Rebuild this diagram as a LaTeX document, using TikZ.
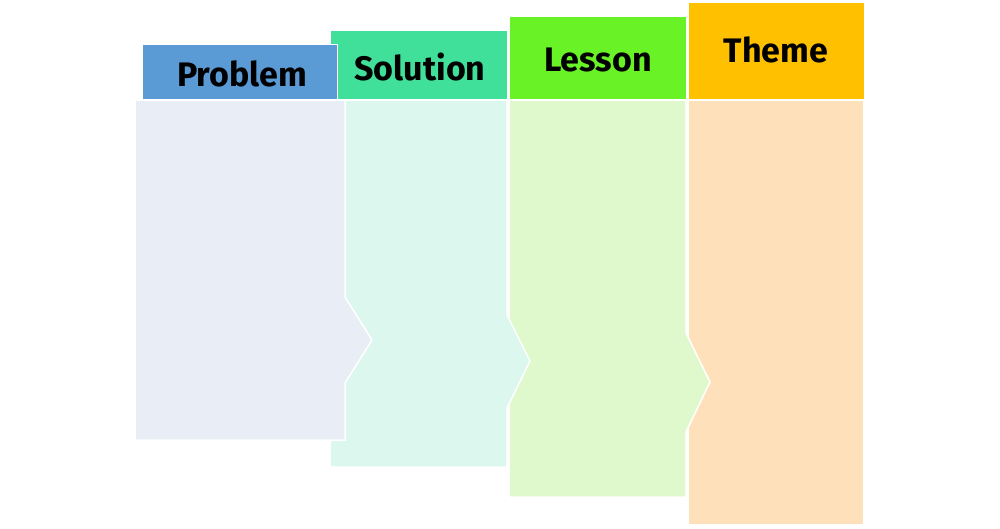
\documentclass[tikz,border=0pt]{standalone}
\usepackage{fontspec}
\setmainfont{Fira Sans}
\usetikzlibrary{positioning}
\definecolor{probhead}{HTML}{5B9BD5}
\definecolor{probbody}{HTML}{E9EDF6}
\definecolor{solhead}{HTML}{40E09A}
\definecolor{solbody}{HTML}{DCF8EE}
\definecolor{leshead}{HTML}{69F226}
\definecolor{lesbody}{HTML}{E0F9CC}
\definecolor{thmhead}{HTML}{FFC000}
\definecolor{thmbody}{HTML}{FEE0BA}
\begin{document}
\begin{tikzpicture}[x=1pt,y=-1pt]
		\tikzset{body/.style = {draw=white,line width=1.5pt}}
		\tikzset{header/.style = {draw=white,line width=1pt,anchor=south west,inner sep=0pt,
				font=\fontsize{34}{38}\selectfont\bfseries}}
		\useasboundingbox (0,0) rectangle (1000,528);
		% bodies, back to front
		\draw[body,fill=thmbody] (688,100) rectangle (864,525);
		\draw[body,fill=lesbody] (509,100) -- (686,100) -- (686,333) -- (710,382) -- (686,432)
			-- (686,497) -- (509,497) -- cycle;
		\draw[body,fill=solbody] (330,100) -- (507,100) -- (507,315) -- (530,361) -- (507,408)
			-- (507,467) -- (330,467) -- cycle;
		\draw[body,fill=probbody] (135,100) -- (345,100) -- (345,297) -- (372,340) -- (345,383)
			-- (345,440) -- (135,440) -- cycle;
		% headers
		\node[header,fill=thmhead,minimum width=176pt,minimum height=97pt] (theme) at (688,100) {};
		\node[header,fill=leshead,minimum width=177pt,minimum height=83pt] (lesson) at (509,100) {};
		\node[header,fill=solhead,minimum width=177pt,minimum height=69pt] (solution) at (330,100) {};
		\node[header,fill=probhead,minimum width=195pt,minimum height=55pt] (problem) at (142,100) {};
		\node[font=\fontsize{34}{38}\selectfont\bfseries] at (776,50) {Theme};
		\node[font=\fontsize{34}{38}\selectfont\bfseries] at (598,60) {Lesson};
		\node[font=\fontsize{34}{38}\selectfont\bfseries] at (420,67) {Solution};
		\node[font=\fontsize{34}{38}\selectfont\bfseries] at (242,74) {Problem};
\end{tikzpicture}
\end{document}
